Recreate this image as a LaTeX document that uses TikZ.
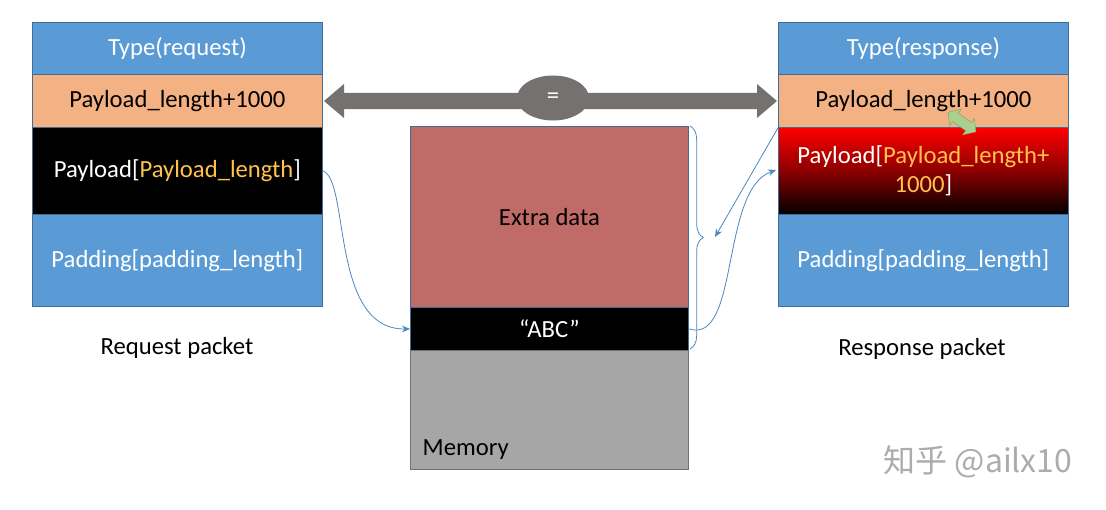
\documentclass[tikz,border=0pt]{standalone}
\usepackage{fontspec}
\setmainfont{Carlito}
\newfontfamily\cjk{Noto Sans CJK SC}
\usetikzlibrary{shapes.geometric,arrows.meta,decorations.pathreplacing}
\definecolor{bl}{HTML}{5B9BD5}
\definecolor{sal}{HTML}{F4B183}
\definecolor{ex}{RGB}{193,107,105}
\definecolor{mg}{RGB}{166,166,166}
\definecolor{ag}{RGB}{118,113,113}
\definecolor{org}{HTML}{FFC34D}
\definecolor{ln}{HTML}{4A86C0}
\definecolor{gr}{HTML}{A9D18E}
\begin{document}
\begin{tikzpicture}[x=0.75pt,y=-0.75pt,
 box/.style={draw=bl!70!black,line width=0.6pt,minimum width=290*0.75pt,inner sep=0pt,font=\fontsize{18.5}{22}\selectfont,align=center},
 conn/.style={draw=ln,line width=0.6pt,-{Stealth[length=6pt,width=5pt]}},
 lab/.style={font=\fontsize{18.5}{22}\selectfont}]
\useasboundingbox (0,0) rectangle (1106,510);
% left packet
\node[box,fill=bl,text=white,minimum height=52*0.75pt,anchor=north west] (lt) at (32,22) {Type(request)};
\node[box,fill=sal,minimum height=53*0.75pt,anchor=north west] (ll) at (32,74) {Payload\_length+1000};
\node[box,fill=black,text=white,minimum height=87*0.75pt,anchor=north west] (lp) at (32,127) {Payload[\textcolor{org}{Payload\_length}]};
\node[box,fill=bl,text=white,minimum height=92*0.75pt,anchor=north west] (lpad) at (32,214) {Padding[padding\_length]};
% right packet
\node[box,fill=bl,text=white,minimum height=52*0.75pt,anchor=north west] (rt) at (778,22) {Type(response)};
\node[box,fill=sal,minimum height=53*0.75pt,anchor=north west] (rl) at (778,74) {Payload\_length+1000};
\node[box,top color=red,bottom color=black,middle color=red!55!black,text=white,minimum height=87*0.75pt,anchor=north west] (rp) at (778,127) {Payload[\textcolor{org}{Payload\_length+}\\\textcolor{org}{1000}]};
\node[box,fill=bl,text=white,minimum height=92*0.75pt,anchor=north west] (rpad) at (778,214) {Padding[padding\_length]};
% memory
\node[draw=bl!70!black,line width=0.6pt,fill=ex,minimum width=278*0.75pt,minimum height=181*0.75pt,anchor=north west,inner sep=0pt,lab] (ext) at (410,126) {Extra data};
\node[draw=bl!70!black,line width=0.6pt,fill=black,text=white,minimum width=278*0.75pt,minimum height=43*0.75pt,anchor=north west,inner sep=0pt,lab] (abc) at (410,307) {“ABC”};
\node[draw=ag,line width=0.6pt,fill=mg,minimum width=278*0.75pt,minimum height=119*0.75pt,anchor=north west,inner sep=0pt] (mem) at (410,350) {};
\node[lab,anchor=west] (memlab) at (418,450) {Memory};
\node[lab] (reqlab) at (177,348) {Request packet};
\node[lab] (reslab) at (922,349) {Response packet};
% big double arrow
\fill[ag] (324,101) -- (344,84) -- (344,93) -- (757,93) -- (757,84) -- (777,101) -- (757,118) -- (757,109) -- (344,109) -- (344,118) -- cycle;
\node[ellipse,fill=ag,minimum width=72*0.75pt,minimum height=45*0.75pt,inner sep=0pt,text=white,lab] (eq) at (553,98) {=};
% brace
\draw[ln,line width=0.6pt,decorate,decoration={brace,amplitude=10pt}] (690,126) -- (690,349);
\coordinate (bt) at (715,237);
\draw[conn] (rl.south west) -- (bt);
% curves
\draw[conn] (lp.east) .. controls (350,180) and (330,330) .. (abc.west);
\draw[conn] (abc.east) .. controls (740,345) and (720,190) .. (776,170);
% green double arrow
\begin{scope}[shift={(962,122)},rotate=-35]
\filldraw[fill=gr,draw=gr!80!black,line width=0.4pt] (-17,0) -- (-8,-10) -- (-8,-5) -- (8,-5) -- (8,-10) -- (17,0) -- (8,10) -- (8,5) -- (-8,5) -- (-8,10) -- cycle;
\end{scope}
% watermark
\node[font=\cjk\fontsize{24}{28}\selectfont,text=gray!65] (wm) at (978,462) {知乎 @ailx10};
\end{tikzpicture}
\end{document}
